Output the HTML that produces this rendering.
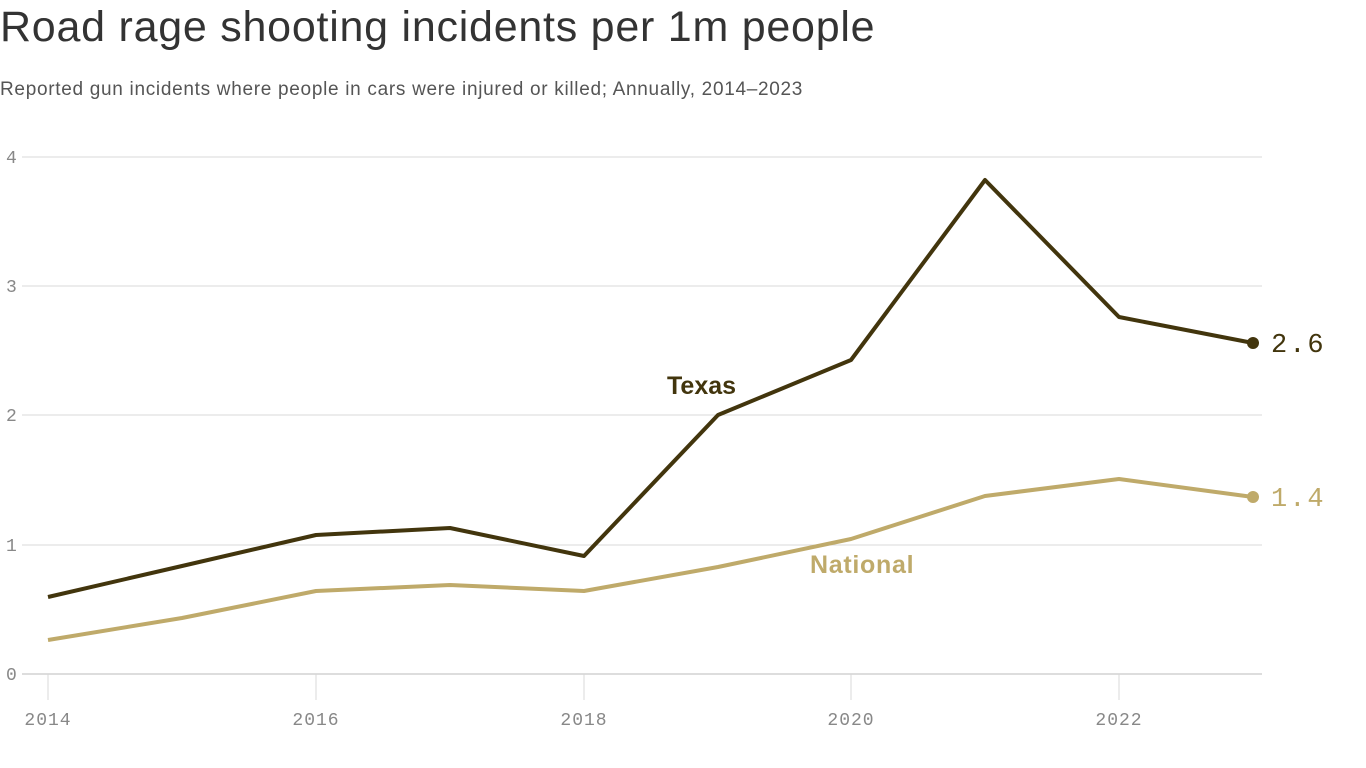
<!DOCTYPE html>
<html><head><meta charset="utf-8"><style>
body{margin:0;width:1366px;height:768px;background:#fff;overflow:hidden;font-family:"Liberation Sans",sans-serif}
h1{position:absolute;left:0;top:3px;margin:0;font-size:43px;font-weight:normal;color:#333;letter-spacing:0.75px}
.sub{position:absolute;left:0;top:79px;font-size:19px;color:#555;letter-spacing:0.7px}
svg{position:absolute;left:0;top:0}
</style></head><body>
<h1>Road rage shooting incidents per 1m people</h1>
<div class="sub">Reported gun incidents where people in cars were injured or killed; Annually, 2014–2023</div>
<svg width="1366" height="768">
<g stroke="#d8d8d8" stroke-width="1">
<line x1="22" x2="1262" y1="157" y2="157"/><line x1="22" x2="1262" y1="286" y2="286"/>
<line x1="22" x2="1262" y1="415" y2="415"/><line x1="22" x2="1262" y1="545" y2="545"/>
<line x1="22" x2="1262" y1="674" y2="674" stroke="#bbb"/>
<line x1="48" x2="48" y1="674" y2="700"/><line x1="316" x2="316" y1="674" y2="700"/>
<line x1="584" x2="584" y1="674" y2="700"/><line x1="851" x2="851" y1="674" y2="700"/>
<line x1="1119" x2="1119" y1="674" y2="700"/>
</g>
<g font-family="Liberation Mono,monospace" font-size="18" fill="#888" letter-spacing="1">
<text x="6" y="163">4</text><text x="6" y="292">3</text><text x="6" y="421">2</text><text x="6" y="551">1</text><text x="6" y="680">0</text>
<g text-anchor="middle"><text x="48" y="725">2014</text><text x="316" y="725">2016</text><text x="584" y="725">2018</text><text x="851" y="725">2020</text><text x="1119" y="725">2022</text></g>
</g>
<polyline fill="none" stroke="#bfaa6a" stroke-width="4" stroke-linejoin="round" points="48,640 182,618 316,591 450,585 584,591 718,567 851,539 985,496 1119,479 1253,497"/>
<polyline fill="none" stroke="#42350d" stroke-width="4" stroke-linejoin="round" points="48,597 182,566 316,535 450,528 584,556 718,415 851,360 985,180 1119,317 1253,343"/>
<circle cx="1253" cy="343" r="6" fill="#42350d"/><circle cx="1253" cy="497" r="6" fill="#bfaa6a"/>
<text x="1271" y="352" font-family="Liberation Mono,monospace" font-size="27" letter-spacing="2" fill="#42350d">2.6</text>
<text x="1271" y="506" font-family="Liberation Mono,monospace" font-size="27" letter-spacing="2" fill="#bfaa6a">1.4</text>
<text x="667" y="394" font-size="25" font-weight="bold" fill="#42350d">Texas</text>
<text x="810" y="573" font-size="25" font-weight="bold" letter-spacing="0.7" fill="#bfaa6a">National</text>
</svg>
</body></html>
